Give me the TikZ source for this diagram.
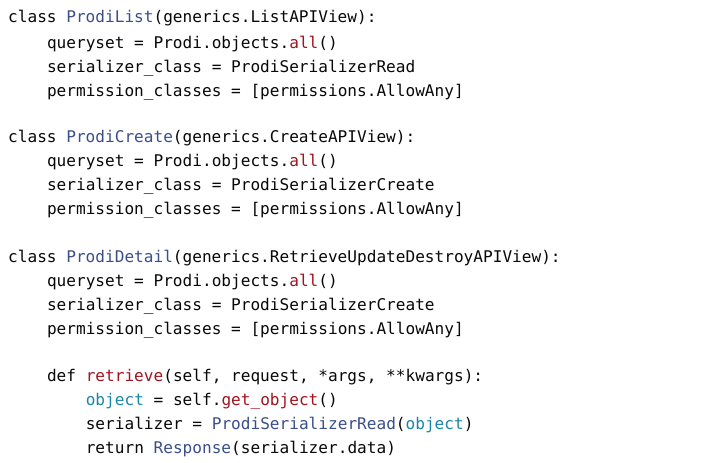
\documentclass[tikz,border=0pt]{standalone}
\usepackage{fontspec}
\setmonofont{DejaVu Sans Mono}
\definecolor{txt}{HTML}{080808}
\definecolor{cls}{HTML}{3A4E8C}
\definecolor{fnr}{HTML}{A0141E}
\definecolor{obj}{HTML}{1A86A8}
\newcommand{\Kw}[1]{\textcolor{txt}{#1}}
\newcommand{\Cl}[1]{\textcolor{cls}{#1}}
\newcommand{\Fr}[1]{\textcolor{fnr}{#1}}
\newcommand{\Ob}[1]{\textcolor{obj}{#1}}
\tikzset{codeline/.style={anchor=base west,inner sep=0pt,text=txt,font=\ttfamily\fontsize{16.1pt}{16.1pt}\selectfont}}
\begin{document}
\begin{tikzpicture}[x=1pt,y=1pt]
\useasboundingbox[fill=white] (0,0) rectangle (718,-463);
\node[codeline] (l1) at (8,-23) {class \Cl{ProdiList}(generics.ListAPIView):};
\node[codeline] (l2) at (46.8,-48) {queryset = Prodi.objects.\Fr{all}()};
\node[codeline] (l3) at (46.8,-72) {serializer\_class = ProdiSerializerRead};
\node[codeline] (l4) at (46.8,-96) {permission\_classes = [permissions.AllowAny]};
\node[codeline] (l5) at (8,-142) {class \Cl{ProdiCreate}(generics.CreateAPIView):};
\node[codeline] (l6) at (46.8,-166) {queryset = Prodi.objects.\Fr{all}()};
\node[codeline] (l7) at (46.8,-190) {serializer\_class = ProdiSerializerCreate};
\node[codeline] (l8) at (46.8,-214) {permission\_classes = [permissions.AllowAny]};
\node[codeline] (l9) at (8,-262) {class \Cl{ProdiDetail}(generics.RetrieveUpdateDestroyAPIView):};
\node[codeline] (l10) at (46.8,-286) {queryset = Prodi.objects.\Fr{all}()};
\node[codeline] (l11) at (46.8,-310) {serializer\_class = ProdiSerializerCreate};
\node[codeline] (l12) at (46.8,-334) {permission\_classes = [permissions.AllowAny]};
\node[codeline] (l13) at (46.8,-381) {def \Fr{retrieve}(self, request, *args, **kwargs):};
\node[codeline] (l14) at (85.6,-405) {\Ob{object} = self.\Fr{get\_object}()};
\node[codeline] (l15) at (85.6,-429) {serializer = \Cl{ProdiSerializerRead}(\Ob{object})};
\node[codeline] (l16) at (85.6,-453) {return \Cl{Response}(serializer.data)};
\end{tikzpicture}
\end{document}
